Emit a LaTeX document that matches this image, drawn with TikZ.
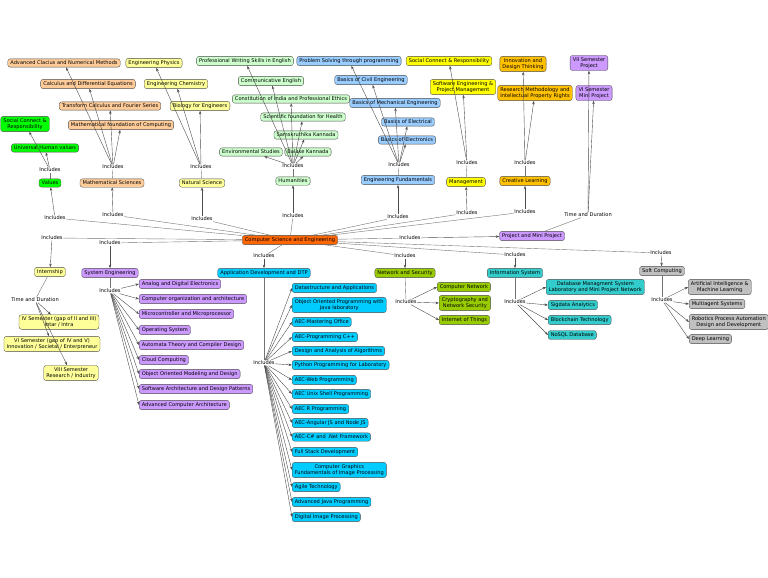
\documentclass[tikz,border=0pt]{standalone}
\usepackage{fontspec}
\setmainfont{DejaVu Sans}
\usetikzlibrary{arrows.meta}
\definecolor{cOr}{HTML}{FF6600}
\definecolor{cMa}{HTML}{FFCC99}
\definecolor{cVa}{HTML}{00FF00}
\definecolor{cNs}{HTML}{FFFF99}
\definecolor{cHu}{HTML}{CCFFCC}
\definecolor{cEf}{HTML}{99CCFF}
\definecolor{cMg}{HTML}{FFFF00}
\definecolor{cCr}{HTML}{FFC000}
\definecolor{cPr}{HTML}{CC99FF}
\definecolor{cAp}{HTML}{00CCFF}
\definecolor{cNw}{HTML}{99CC00}
\definecolor{cIs}{HTML}{33CCCC}
\definecolor{cSc}{HTML}{C0C0C0}
\begin{document}
\begin{tikzpicture}[x=1pt,y=-1pt,
  every node/.style={font=\fontsize{5.1}{5.9}\selectfont},
  bx/.style={draw=black!70,line width=0.35pt,rounded corners=2.5pt,inner xsep=2.6pt,inner ysep=2.2pt,align=center,fill=#1},
  lb/.style={inner sep=0.5pt,fill=white},
  ln/.style={draw=black!55,line width=0.4pt},
  ar/.style={draw=black!70,line width=0.4pt,-{Stealth[length=3.5pt,width=2.5pt]}}]
\useasboundingbox (0,0) rectangle (768,578);
\node[bx=cOr] (cse) at (290,240) {Computer Science and Engineering};
% maths
\node[bx=cMa] (m1) at (64,63) {Advanced Clacius and Numerical Methods};
\node[bx=cMa] (m2) at (88,84) {Calculus and Differential Equations};
\node[bx=cMa] (m3) at (110,106) {Transform Calculus and Fourier Series};
\node[bx=cMa] (m4) at (121,125) {Mathematical foundation of Computing};
\node[lb] (mi) at (113,167) {Includes};
\node[bx=cMa] (ms) at (112,183) {Mathematical Sciences};
\node[lb] (mi0) at (113,215) {Includes};
% values
\node[bx=cVa] (v1) at (25,124) {Social Connect \&\\Responsibility};
\node[bx=cVa] (v2) at (45,148) {Universal Human values};
\node[lb] (vi) at (50,170) {Includes};
\node[bx=cVa] (va) at (50,183) {Values};
\node[lb] (vi0) at (55,218) {Includes};
% natural
\node[bx=cNs] (n1) at (154,63) {Engineering Physics};
\node[bx=cNs] (n2) at (176,84) {Engineering Chemistry};
\node[bx=cNs] (n3) at (200,106) {Biology for Engineers};
\node[lb] (ni) at (201,167) {Includes};
\node[bx=cNs] (ns) at (202,183) {Natural Science};
\node[lb] (ni0) at (202,219) {Includes};
% humanities
\node[bx=cHu] (h1) at (245,61) {Professional Writing Skills in English};
\node[bx=cHu] (h2) at (271,81) {Communicative English};
\node[bx=cHu] (h3) at (291,99) {Constitution of India and Professional Ethics};
\node[bx=cHu] (h4) at (303,117) {Scientific foundation for Health};
\node[bx=cHu] (h5) at (306,135) {Samskruthika Kannada};
\node[bx=cHu] (h6) at (308,152) {Balake Kannada};
\node[bx=cHu] (h7) at (251,152) {Environmental Studies};
\node[lb] (hi) at (293,166) {Includes};
\node[bx=cHu] (hu) at (293,181) {Humanities};
\node[lb] (hi0) at (293,216) {Includes};
% eng fundamentals
\node[bx=cEf] (e1) at (349,61) {Problem Solving through programming};
\node[bx=cEf] (e2) at (371,80) {Basics of Civil Engineering};
\node[bx=cEf] (e3) at (395,103) {Basics of Mechanical Engineering};
\node[bx=cEf] (e4) at (408,122) {Basics of Electrical};
\node[bx=cEf] (e5) at (407,140) {Basics of Electronics};
\node[lb] (ei) at (399,165) {Includes};
\node[bx=cEf] (ef) at (398,180) {Engineering Fundamentals};
\node[lb] (ei0) at (398,217) {Includes};
% management
\node[bx=cMg] (g1) at (449,61) {Social Connect \& Responsibility};
\node[bx=cMg] (g2) at (463,87) {Software Engineering \&\\Project Management};
\node[lb] (gi) at (467,163) {Includes};
\node[bx=cMg] (mg) at (466,182) {Management};
\node[lb] (gi0) at (467,213) {Includes};
% creative
\node[bx=cCr] (c1) at (523,64) {Innovation and\\Design Thinking};
\node[bx=cCr] (c2) at (535,93) {Research Methodology and\\Intellectual Property Rights};
\node[lb] (ci) at (525,163) {Includes};
\node[bx=cCr] (cl) at (525,181) {Creative Learning};
\node[lb] (ci0) at (525,212) {Includes};
% project
\node[bx=cPr] (p1) at (589,63) {VII Semester\\Project};
\node[bx=cPr] (p2) at (594,93) {VI Semester\\Mini Project};
\node[lb] (pt) at (588,215) {Time and Duration};
\node[bx=cPr] (pm) at (532,236) {Project and Mini Project};
\node[lb] (pi0) at (410,238) {Includes};
% internship
\node[lb] (ii0) at (52,238) {Includes};
\node[bx=cNs] (in) at (50,272) {Internship};
\node[lb] (it) at (35,300) {Time and Duration};
\node[bx=cNs] (i1) at (59,322) {IV Semester (gap of II and III)\\Intar / Intra};
\node[bx=cNs] (i2) at (52,344) {VI Semester (gap of IV and V)\\Innovation / Societal / Enterpreneur};
\node[bx=cNs] (i3) at (71,373) {VIII Semester\\Research / Industry};
% system engineering
\node[lb] (si0) at (110,243) {Includes};
\node[bx=cPr] (se) at (110,273) {System Engineering};
\node[lb] (si) at (110,291) {Includes};
\foreach \n/\y/\t in {1/284/Analog and Digital Electronics,2/299/Computer organization and architecture,3/314/Microcontroller and Microprocessor,4/330/Operating System,5/345/Automata Theory and Compiler Design,6/360/Cloud Computing,7/374/Object Oriented Modeling and Design,8/389/Software Architecture and Design Patterns,9/405/Advanced Computer Architecture}
  {\node[bx=cPr,anchor=west] (s\n) at (139,\y) {\t};
   \draw[ar] (si) -- (s\n.west);}
% app dev
\node[lb] (ai0) at (264,256) {Includes};
\node[bx=cAp] (ad) at (264,273) {Application Development and DTP};
\node[lb] (ai) at (264,363) {Includes};
\foreach \n/\y/\t in {1/288/Datastructure and Applications,2/305/{Object Oriented Programming with\\Java laboratory},3/322/AEC-Mastering Office,4/337/AEC-Programming C++,5/351/Design and Analysis of Algorithms,6/365/Python Programming for Laboratory,7/380/AEC-Web Programming,8/394/AEC Unix Shell Programming,9/409/AEC R Programming,10/423/AEC-Angular JS and Node JS,11/437/AEC-C\# and .Net Framework,12/452/Full Stack Development,13/470/{Computer Graphics\\Fundamentals of Image Processing},14/487/Agile Technology,15/502/Advanced Java Programming,16/517/Digital Image Processing}
  {\node[bx=cAp,anchor=west] (a\n) at (292,\y) {\t};
   \draw[ar] (ai) -- (a\n.west);}
% network
\node[lb] (wi0) at (405,256) {Includes};
\node[bx=cNw] (nw) at (405,273) {Network and Security};
\node[lb] (wi) at (406,302) {Includes};
\node[bx=cNw,anchor=west] (w1) at (437,287) {Computer Network};
\node[bx=cNw,anchor=west] (w2) at (439,303) {Cryptography and\\Network Security};
\node[bx=cNw,anchor=west] (w3) at (439,320) {Internet of Things};
% information
\node[lb] (fi0) at (515,255) {Includes};
\node[bx=cIs] (is) at (515,273) {Information System};
\node[lb] (fi) at (515,302) {Includes};
\node[bx=cIs,anchor=west] (f1) at (546,287) {Database Managment System\\Laboratory and Mini Project Network};
\node[bx=cIs,anchor=west] (f2) at (548,305) {Sigdata Analytics};
\node[bx=cIs,anchor=west] (f3) at (548,320) {Blockchain Technology};
\node[bx=cIs,anchor=west] (f4) at (548,335) {NoSQL Database};
% soft computing
\node[lb] (oi0) at (661,253) {Includes};
\node[bx=cSc] (sc) at (662,271) {Soft Computing};
\node[lb] (oi) at (662,300) {Includes};
\node[bx=cSc,anchor=west] (o1) at (688,287) {Artificial Intelligence \&\\Machine Learning};
\node[bx=cSc,anchor=west] (o2) at (689,304) {Multiagent Systems};
\node[bx=cSc,anchor=west] (o3) at (689,322) {Robotics Process Automation\\Design and Development};
\node[bx=cSc,anchor=west] (o4) at (689,339) {Deep Learning};
% edges root -> labels
\foreach \l in {mi0,vi0,ni0,hi0,ei0,gi0,ci0,pi0,ii0,si0,ai0,wi0,fi0,oi0}
  \draw[ln] (cse) -- (\l);
\draw[ar] (mi0) -- (ms); \draw[ar] (vi0) -- (va); \draw[ar] (ni0) -- (ns);
\draw[ar] (hi0) -- (hu); \draw[ar] (ei0) -- (ef); \draw[ar] (gi0) -- (mg);
\draw[ar] (ci0) -- (cl); \draw[ar] (pi0) -- (pm); \draw[ar] (ii0) -- (in);
\draw[ar] (si0) -- (se); \draw[ar] (ai0) -- (ad); \draw[ar] (wi0) -- (nw);
\draw[ar] (fi0) -- (is); \draw[ar] (oi0) -- (sc);
% parent -> includes -> children
\draw[ln] (ms) -- (mi); \foreach \c in {m1,m2,m3,m4} \draw[ar] (mi) -- (\c);
\draw[ln] (va) -- (vi); \foreach \c in {v1,v2} \draw[ar] (vi) -- (\c);
\draw[ln] (ns) -- (ni); \foreach \c in {n1,n2,n3} \draw[ar] (ni) -- (\c);
\draw[ln] (hu) -- (hi); \foreach \c in {h1,h2,h3,h4,h5,h6,h7} \draw[ar] (hi) -- (\c);
\draw[ln] (ef) -- (ei); \foreach \c in {e1,e2,e3,e4,e5} \draw[ar] (ei) -- (\c);
\draw[ln] (mg) -- (gi); \foreach \c in {g1,g2} \draw[ar] (gi) -- (\c);
\draw[ln] (cl) -- (ci); \foreach \c in {c1,c2} \draw[ar] (ci) -- (\c);
\draw[ln] (pm) -- (pt); \foreach \c in {p1,p2} \draw[ar] (pt) -- (\c);
\draw[ln] (in) -- (it); \foreach \c in {i1,i2,i3} \draw[ar] (it) -- (\c);
\draw[ln] (se) -- (si);
\draw[ln] (ad) -- (ai);
\draw[ln] (nw) -- (wi); \foreach \c in {w1,w2,w3} \draw[ar] (wi) -- (\c.west);
\draw[ln] (is) -- (fi); \foreach \c in {f1,f2,f3,f4} \draw[ar] (fi) -- (\c.west);
\draw[ln] (sc) -- (oi); \foreach \c in {o1,o2,o3,o4} \draw[ar] (oi) -- (\c.west);
\end{tikzpicture}
\end{document}
